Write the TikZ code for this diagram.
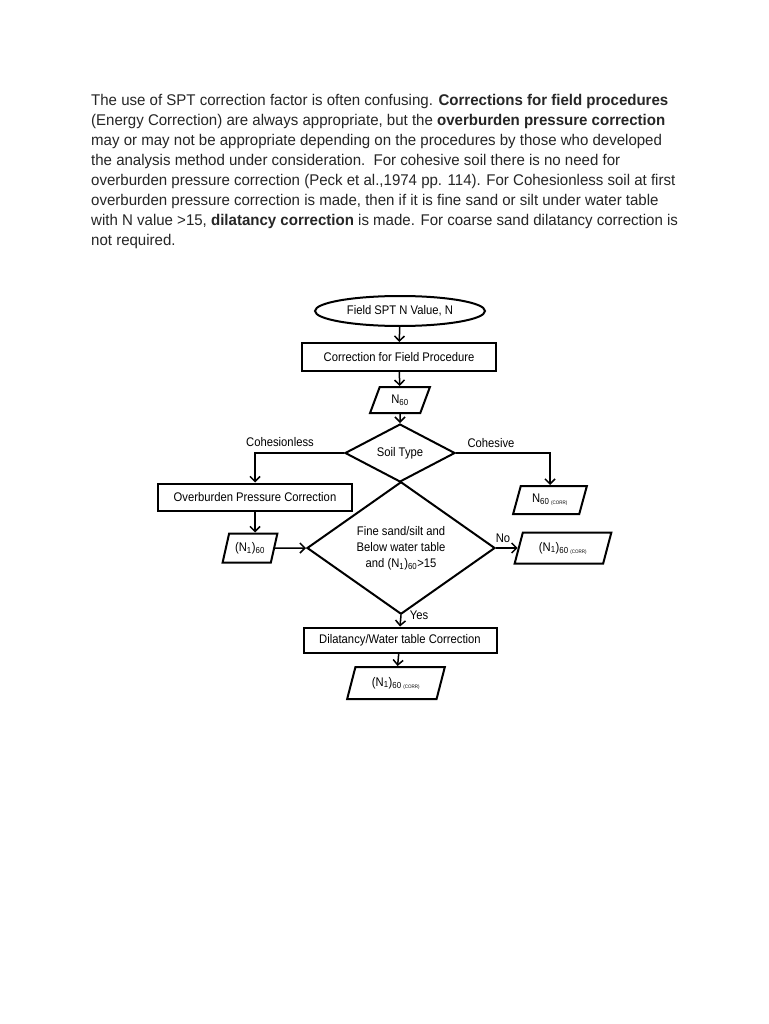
\documentclass[tikz,border=0pt]{standalone}
\usepackage{fontspec}
\setmainfont{Liberation Sans}
\newfontfamily\parafont[FakeStretch=0.97]{Liberation Sans}
\newfontfamily\chartfont[FakeStretch=0.9]{Liberation Sans}
\usetikzlibrary{shapes.geometric,arrows.meta}
\tikzset{
  paraline/.style={anchor=base west, inner sep=0pt, font=\parafont\fontsize{15.5}{18}\selectfont, text=black!85},
  chart/.style={draw, line width=2pt, inner sep=1pt, font=\chartfont\fontsize{12.5}{16}\selectfont},
  procbox/.style={chart, rectangle},
  iobox/.style={chart, trapezium, trapezium left angle=70, trapezium right angle=110, trapezium stretches=true},
  decbox/.style={chart, diamond, inner sep=0pt},
  termbox/.style={chart, ellipse},
  arr/.style={line width=1.5pt, -{Straight Barb[length=5pt,width=10pt,line width=1.5pt]}},
  lbl/.style={font=\chartfont\fontsize{12.5}{15}\selectfont, inner sep=0pt}
}
\begin{document}
\begin{tikzpicture}[x=1pt,y=-1pt]
\useasboundingbox (0,0) rectangle (768,1024);
\fill[white] (0,0) rectangle (768,1024);
% paragraph
\node[paraline] (p1) at (91,105.5) {The use of SPT correction factor is often confusing. \textbf{Corrections for field procedures}};
\node[paraline] (p2) at (91,125.5) {(Energy Correction) are always appropriate, but the \textbf{overburden pressure correction}};
\node[paraline] (p3) at (91,145.5) {may or may not be appropriate depending on the procedures by those who developed};
\node[paraline] (p4) at (91,165.5) {the analysis method under consideration.\ \ For cohesive soil there is no need for};
\node[paraline] (p5) at (91,185.5) {overburden pressure correction (Peck et al.,1974 pp. 114). For Cohesionless soil at first};
\node[paraline] (p6) at (91,205.5) {overburden pressure correction is made, then if it is fine sand or silt under water table};
\node[paraline] (p7) at (91,225.5) {with N value >15, \textbf{dilatancy correction} is made. For coarse sand dilatancy correction is};
\node[paraline] (p8) at (91,245.5) {not required.};
% flowchart
\node[termbox, minimum width=170pt, minimum height=30pt] (start) at (400,311) {Field SPT N Value, N};
\node[procbox, minimum width=194pt, minimum height=28pt] (cfp) at (399,357) {Correction for Field Procedure};
\node[iobox, minimum width=60pt, minimum height=26pt] (n60) at (400,400) {N\textsubscript{60}};
\node[decbox, minimum width=110pt, minimum height=48pt] (soil) at (400,453) {Soil Type};
\node[procbox, minimum width=194pt, minimum height=27pt] (opc) at (255,497) {Overburden Pressure Correction};
\node[iobox, minimum width=74pt, minimum height=28pt] (n60c) at (550,500) {N\textsubscript{60 {\tiny(CORR)}}};
\node[iobox, minimum width=55pt, minimum height=29pt] (n160) at (250,548) {(N\textsubscript{1})\textsubscript{60}};
\node[decbox, minimum width=188pt, minimum height=115pt, align=center] (fine) at (401,548) {Fine sand/silt and\\Below water table\\and (N\textsubscript{1})\textsubscript{60}>15};
\node[iobox, minimum width=97pt, minimum height=31pt] (n160c) at (563,548) {(N\textsubscript{1})\textsubscript{60 {\tiny(CORR)}}};
\node[procbox, minimum width=193pt, minimum height=25pt] (dil) at (400,640) {Dilatancy/Water table Correction};
\node[iobox, minimum width=98pt, minimum height=32pt] (n160cf) at (396,683) {(N\textsubscript{1})\textsubscript{60 {\tiny(CORR)}}};
% connectors
\draw[arr] (start) -- (cfp);
\draw[arr] (cfp) -- (n60);
\draw[arr] (n60) -- (soil);
\draw[arr] (soil.west) -| (opc.north);
\draw[arr] (soil.east) -| (n60c.north);
\draw[arr] (opc.south) -- (opc.south |- n160.north);
\draw[arr] (n160) -- (fine.west);
\draw[arr] (fine.east) -- (n160c);
\draw[arr] (fine.south) -- (dil.north);
\draw[arr] (dil) -- (n160cf);
% labels
\node[lbl] (lcl) at (280,442) {Cohesionless};
\node[lbl] (lch) at (491,443) {Cohesive};
\node[lbl] (lno) at (503,538) {No};
\node[lbl] (lyes) at (419,615) {Yes};
\end{tikzpicture}
\end{document}
